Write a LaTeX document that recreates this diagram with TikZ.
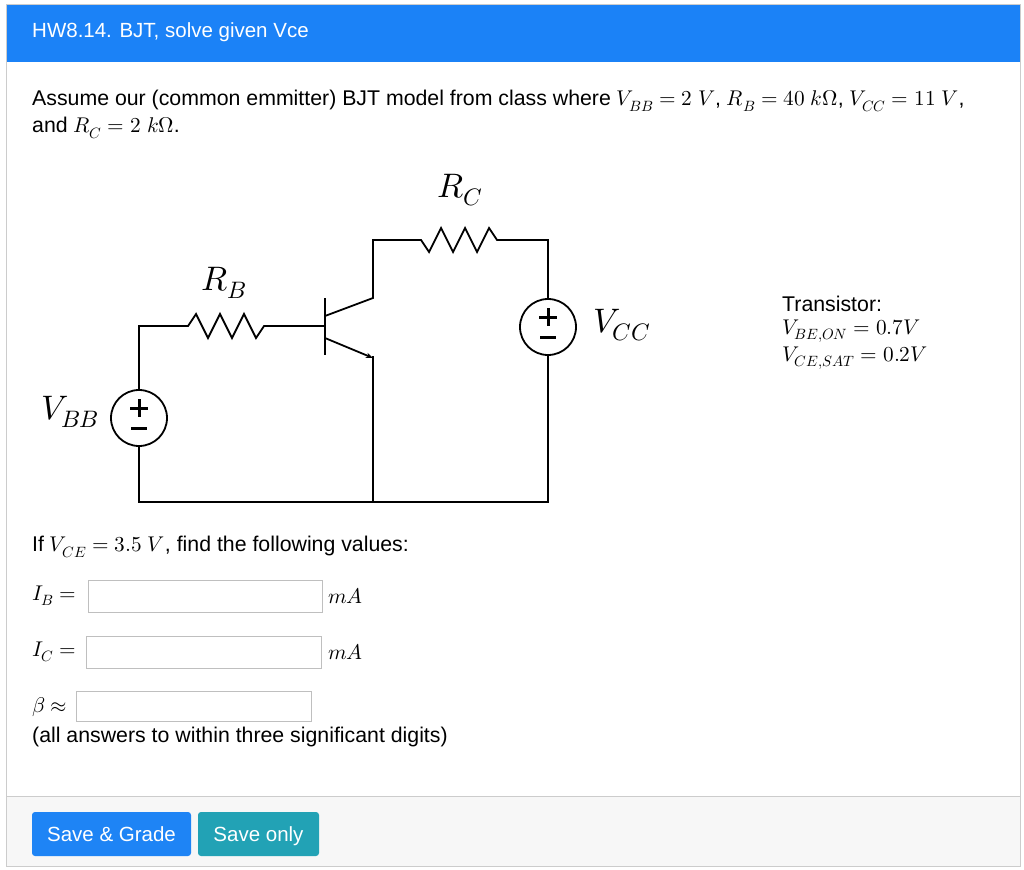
\documentclass[tikz,border=0pt]{standalone}
\usetikzlibrary{arrows.meta}
\usepackage{fontspec}
\setmainfont{Liberation Sans}
\usepackage{amsmath}
\usepackage{unicode-math}
\setmathfont{Latin Modern Math}
\definecolor{hblue}{HTML}{1B82F7}
\definecolor{bblue}{HTML}{1E84F5}
\definecolor{teal1}{HTML}{22A2B5}
\begin{document}
\begin{tikzpicture}[x=1pt,y=-1pt,
  txt/.style={anchor=west,inner sep=0pt,font=\fontsize{21.3}{24}\selectfont},
  big/.style={inner sep=0pt,font=\fontsize{34}{38}\selectfont},
  wire/.style={line width=1.8pt},
  inbox/.style={draw=black!25,fill=white,line width=0.8pt},
  btn/.style={anchor=base,text=white,font=\fontsize{20.5}{24}\selectfont,inner sep=0pt}]
\useasboundingbox (0,0) rectangle (1024,869);
\fill[white] (0,0) rectangle (1024,869);
% card
\fill[black!3] (6,796) rectangle (1020,866);
\draw[black!20] (6,796) -- (1020,796);
\fill[hblue] (6,4) rectangle (1020,62);
\draw[black!20,line width=0.8pt] (6,4) rectangle (1020,866);
\node[txt,text=white,font=\fontsize{20.5}{24}\selectfont] (title) at (32,32) {HW8.14. BJT, solve given Vce};
\node[txt] (l1) at (32,101) {Assume our (common emmitter) BJT model from class where $V_{BB}=2\ V$, $R_B=40\ k\Omega$, $V_{CC}=11\ V$,};
\node[txt] (l2) at (32,128) {and $R_C=2\ k\Omega$.};
% circuit
\coordinate (tl) at (139,326); \coordinate (bl) at (139,502);
\coordinate (br) at (548,502); \coordinate (tr) at (548,240);
\coordinate (ct) at (373,240); \coordinate (cb) at (373,298);
\coordinate (eb) at (373,502); \coordinate (et) at (373,358);
\coordinate (bb) at (325,326);
\node[draw,circle,minimum size=56pt,line width=1.8pt,inner sep=0pt] (vbb) at (139,418) {};
\node[draw,circle,minimum size=56pt,line width=1.8pt,inner sep=0pt] (vcc) at (548,327) {};
\foreach \n in {vbb,vcc}{
 \draw[line width=3pt] ([yshift=10pt,xshift=-9pt]\n.center) -- ([yshift=10pt,xshift=9pt]\n.center);
 \draw[line width=3pt] ([yshift=19pt]\n.center) -- ([yshift=1pt]\n.center);
 \draw[line width=3pt] ([yshift=-10pt,xshift=-8pt]\n.center) -- ([yshift=-10pt,xshift=8pt]\n.center);}
\draw[wire] (vbb.north) -- (tl) -- (188,326) -- (196,314) -- (208,338) -- (220,314) -- (232,338) -- (244,314) -- (256,338) -- (264,326) -- (bb);
\draw[wire] (vbb.south) -- (bl) -- (br) -- (vcc.south);
\draw[wire] (vcc.north) -- (tr) -- (497,240) -- (489,228) -- (477,252) -- (465,228) -- (453,252) -- (441,228) -- (429,252) -- (421,240) -- (ct) -- (cb) -- (325,316);
\draw[line width=2.2pt] (325,298) -- (325,355);
\draw[wire,-{Stealth[length=7pt]}] (325,338) -- (et);
\draw[wire] (373,356) -- (eb);
\node[big] (rc) at (460,190) {$R_C$};
\node[big] (rb) at (224,283) {$R_B$};
\node[big] (vccl) at (622,325) {$V_{CC}$};
\node[big] (vbbl) at (70,412) {$V_{BB}$};
\node[txt] (tr1) at (782,304) {Transistor:};
\node[txt] (tr2) at (782,331) {$V_{BE,ON}=0.7V$};
\node[txt] (tr3) at (782,358) {$V_{CE,SAT}=0.2V$};
% questions
\node[txt] (q) at (32,547) {If $V_{CE}=3.5\ V$, find the following values:};
\node[txt] (ib) at (32,596) {$I_B=$};
\draw[inbox] (88,580) rectangle (322,612);
\node[txt] (ibu) at (328,596) {$mA$};
\node[txt] (ic) at (32,652) {$I_C=$};
\draw[inbox] (86,636) rectangle (321,668);
\node[txt] (icu) at (328,652) {$mA$};
\node[txt] (be) at (32,707) {$\beta\approx$};
\draw[inbox] (76,691) rectangle (311,721);
\node[txt] (note) at (32,737) {(all answers to within three significant digits)};
% buttons
\fill[bblue,rounded corners=3pt] (32,812) rectangle (191,856);
\node[btn] (b1) at (111.5,841) {Save \& Grade};
\fill[teal1,rounded corners=3pt] (198,812) rectangle (319,856);
\node[btn] (b2) at (258.5,841) {Save only};
\end{tikzpicture}
\end{document}
